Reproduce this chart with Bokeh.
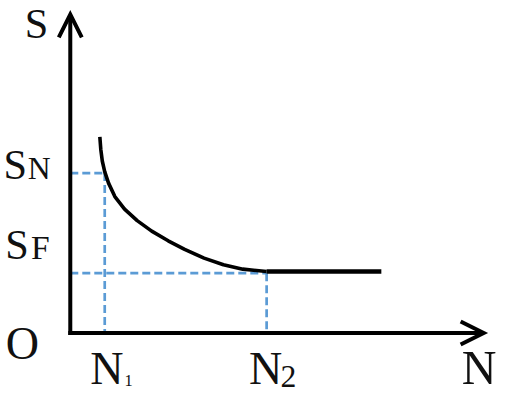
from bokeh.plotting import figure
from bokeh.models import Range1d, Arrow, OpenHead, ColumnDataSource
from bokeh.core.properties import value
from bokeh.embed import file_html
from bokeh.resources import INLINE

# ---------------- data ----------------
N_axis_max = 12.0
S_axis_max = 10.0
N1 = 1.0
N2 = 5.70
S_N = 5.02
S_F = 1.88

curve_N = [0.858, 0.886, 0.929, 0.999, 1.111, 1.294, 1.576, 1.942, 2.364,
           2.842, 3.320, 3.883, 4.446, 5.008, 5.700]
curve_S = [6.154, 5.762, 5.400, 5.068, 4.706, 4.284, 3.891, 3.529, 3.198,
           2.896, 2.624, 2.353, 2.142, 2.006, 1.930]

plateau_N = [5.70, 9.03]
plateau_S = [1.93, 1.93]

axis_title_N = "N"
axis_title_S = "S"
origin_label = "O"
label_SN = ("S", "N")
label_SF = ("S", "F")
label_N1 = ("N", "1")
label_N2 = ("N", "2")

# ---------------- layout ----------------
W, H = 504, 396
REF_W, REF_H = 520, 412
SX, SY = W / REF_W, H / REF_H      # scale of the reference layout into the plot
PX_X = 35.54 * SX   # pixels per N unit
PX_Y = 33.15 * SY   # pixels per S unit
OX, OY = 72 * SX, 346 * SY   # origin inside the plot (pixels from left / top)
BASELINE_FIX = 0.36  # em correction for where the text baseline lands

x_range = Range1d(-OX / PX_X, (W - OX) / PX_X)
y_range = Range1d(-(H - OY) / PX_Y, OY / PX_Y)


def at(px, py):
    """plot pixel position (from left/top) -> data coordinates"""
    return (px - OX) / PX_X, (OY - py) / PX_Y


p = figure(width=W, height=H, x_range=x_range, y_range=y_range,
           output_backend="svg", toolbar_location=None,
           x_axis_type=None, y_axis_type=None, min_border=0,
           outline_line_color=None, background_fill_color="white",
           border_fill_color="white")
p.grid.visible = False

DASH_COLOR = "#5B9BD5"
dash = "8 4"

# dashed guide lines
for xs_, ys_ in (([0, N1], [S_N, S_N]), ([N1, N1], [S_N, 0]),
                 ([0, N2], [S_F, S_F]), ([N2, N2], [S_F, 0])):
    p.line(xs_, ys_, line_color=DASH_COLOR, line_width=2.7, line_dash=dash)

# curve and plateau
p.line(curve_N, curve_S, line_color="black", line_width=3.6, line_join="round")
p.line(plateau_N, plateau_S, line_color="black", line_width=4.5)

# axes with open arrow heads
ext_x = 2 / PX_X
ext_y = 2 / PX_Y
head = dict(size=23, line_width=4, line_color="black", line_join="miter")
p.add_layout(Arrow(end=OpenHead(**head), x_start=0, y_start=-ext_y,
                   x_end=0, y_end=S_axis_max, line_width=4, line_color="black"))
p.add_layout(Arrow(end=OpenHead(**head), x_start=-ext_x, y_start=0,
                   x_end=N_axis_max, y_end=0, line_width=4, line_color="black"))

# text labels in reference pixels: (text, left px, baseline px, font size px)
labels = [
    (axis_title_S, 25, 40, 44),
    (label_SN[0], 3, 186, 44),
    (label_SN[1], 28, 187, 33),
    (label_SF[0], 5, 270, 44),
    (label_SF[1], 31.5, 270, 35),
    (origin_label, 5.5, 374, 48),
    (label_N1[0], 92.5, 400, 48),
    (label_N1[1], 128, 401, 17),
    (label_N2[0], 256.5, 400, 48),
    (label_N2[1], 289, 403, 33),
    (axis_title_N, 476, 400, 50),
]
xs, ys, sizes = [], [], []
for t, lx, by, fs in labels:
    size = fs * SY
    x_, y_ = at(lx * SX, by * SY - BASELINE_FIX * size)
    xs.append(x_)
    ys.append(y_)
    sizes.append(f"{size:.1f}px")
src = ColumnDataSource(dict(x=xs, y=ys, text=[l[0] for l in labels], size=sizes))
p.text(x="x", y="y", text="text", source=src, text_font=value("Liberation Serif"),
       text_font_size="size", text_color="#111111", text_align="left",
       text_baseline="alphabetic")

open("out.html", "w").write(file_html(p, INLINE))
